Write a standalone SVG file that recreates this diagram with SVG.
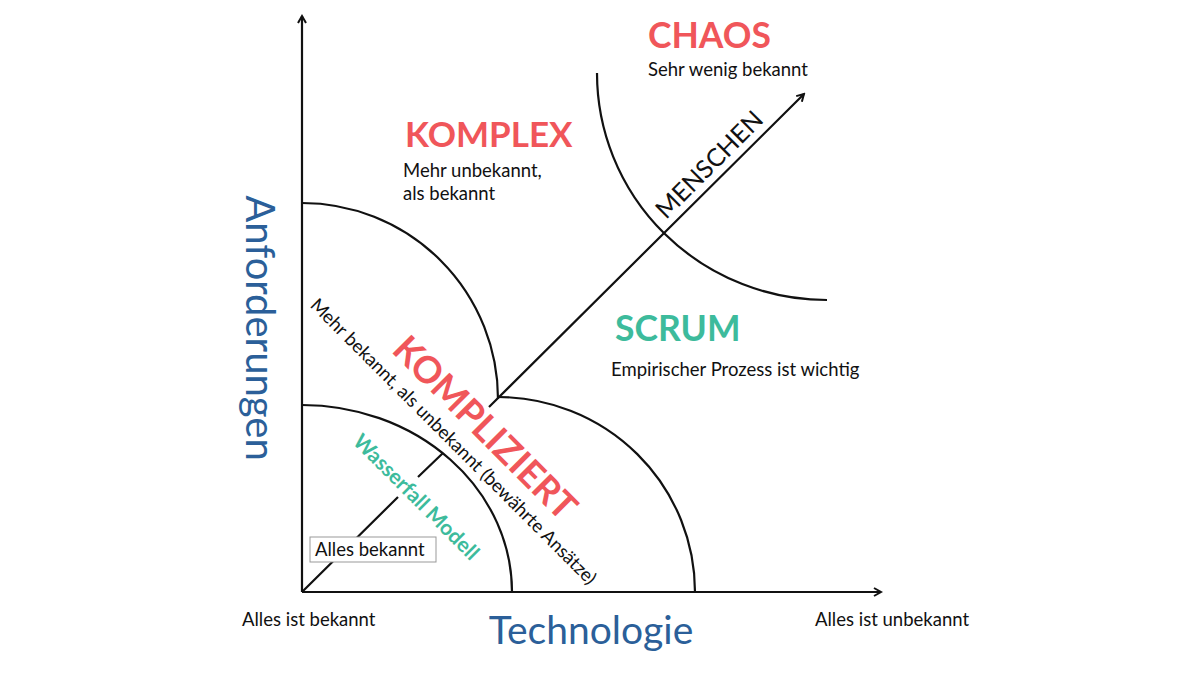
<svg xmlns="http://www.w3.org/2000/svg" width="1204" height="677" viewBox="0 0 1204 677">
<style>
text{font-family:Lato,"Open Sans",sans-serif}
.l{fill:none;stroke:#111;stroke-width:2.2}
.r{fill:#f0565a;font-weight:bold}
.g{fill:#3dbb9c;font-weight:bold}
.b{fill:#2b5f99}
.k{fill:#111}
.s{font-size:18.5px}
</style>
<defs><marker id="a" markerWidth="10" markerHeight="10" refX="8" refY="5" orient="auto" markerUnits="userSpaceOnUse"><path d="M1,1 L8,5 L1,9" fill="none" stroke="#111" stroke-width="2"/></marker></defs>
<rect width="1204" height="677" fill="#fff"/>
<g id="connectors">
<path class="l" d="M302,592 V16" marker-end="url(#a)"/>
<path class="l" d="M302,592 H881" marker-end="url(#a)"/>
<path class="l" d="M302,592 L398,497 M418,477 L443,453 M489,407 L804,94" marker-end="url(#a)"/>
<path class="l" d="M302,405 A210,187 0 0 1 512,592"/>
<path class="l" d="M302,203 A196,196 0 0 1 498,399"/>
<path class="l" d="M498,397 A197,195 0 0 1 695,592"/>
<path class="l" d="M597,73 A230,227 0 0 0 827,300"/>
</g>
<g id="chaos"><text class="r" x="648" y="48" font-size="35.5">CHAOS</text><text class="k s" x="648" y="76">Sehr wenig bekannt</text></g>
<g id="komplex"><text class="r" x="405" y="147" font-size="35">KOMPLEX</text><text class="k s" x="403" y="177">Mehr unbekannt,</text><text class="k s" x="403" y="200">als bekannt</text></g>
<g id="scrum"><text class="g" x="615" y="341" font-size="35.5">SCRUM</text><text class="k s" x="611" y="376">Empirischer Prozess ist wichtig</text></g>
<g id="menschen"><text class="k" font-size="25" transform="translate(666,220) rotate(-45)">MENSCHEN</text></g>
<g id="kompliziert"><text class="r" font-size="37" text-anchor="middle" transform="translate(476,437) rotate(45)">KOMPLIZIERT</text>
<text class="k" font-size="18.5" text-anchor="middle" transform="translate(449,446) rotate(45)">Mehr bekannt, als unbekannt (bewährte Ansätze)</text></g>
<g id="wasserfall"><text class="g" font-size="21" text-anchor="middle" transform="translate(411,502) rotate(45)">Wasserfall Modell</text></g>
<g id="alles"><rect x="310" y="537" width="126" height="25" fill="#fff" stroke="#999" stroke-width="1"/><text class="k s" x="315" y="556">Alles bekannt</text></g>
<g id="axes-labels">
<text class="k s" x="242" y="626">Alles ist bekannt</text>
<text class="k s" x="815" y="626">Alles ist unbekannt</text>
<text class="b" x="591" y="644" font-size="39" text-anchor="middle">Technologie</text>
<text class="b" font-size="40" text-anchor="middle" transform="translate(246,328) rotate(90)">Anforderungen</text>
</g>
</svg>
